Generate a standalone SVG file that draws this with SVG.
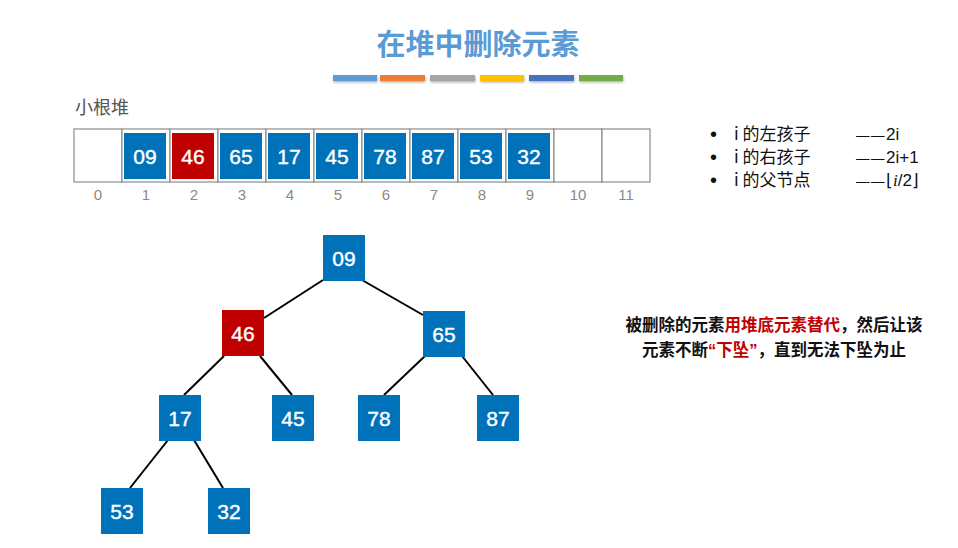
<svg xmlns="http://www.w3.org/2000/svg" width="958" height="548" viewBox="0 0 958 548">
<style>
.cj{font-family:"Noto Sans CJK SC","Liberation Sans",sans-serif}
.nb{fill:#0072b9}
.nr{fill:#c00000}
.nt{font-family:"Liberation Sans",Arial,sans-serif;font-size:21px;fill:#fff;stroke:#fff;stroke-width:0.4;text-anchor:middle}
.idx{font-family:"Liberation Sans",Arial,sans-serif;font-size:15px;fill:#8a8a8a;text-anchor:middle}
.cell{fill:#fff;stroke:#8c8c8c;stroke-width:1.2}
.edge{stroke:#000;stroke-width:2;fill:none}
.li{font-family:"Noto Sans CJK SC","Liberation Sans",sans-serif;font-size:17px;fill:#111}
.ds{font-family:"Liberation Sans",sans-serif;font-size:17px;fill:#111}
.dd{stroke:#111;stroke-width:1.8}
.bu{font-family:"Liberation Sans",sans-serif;font-size:20px;fill:#111}
.rm{font-family:"Noto Sans CJK SC",sans-serif;font-size:16.5px;font-weight:bold;fill:#111;text-anchor:middle}
.q{font-family:"Liberation Sans",sans-serif}
</style>
<defs>
<filter id="sh" x="-10%" y="-50%" width="120%" height="250%">
<feDropShadow dx="0.5" dy="1.5" stdDeviation="1" flood-color="#000" flood-opacity="0.3"/>
</filter>
</defs>
<rect width="958" height="548" fill="#fff"/>
<g id="title">
<text x="478" y="55" class="cj" font-size="29" font-weight="bold" fill="#5b9bd5" text-anchor="middle">在堆中删除元素</text>
<g filter="url(#sh)">
<rect x="333" y="75" width="44" height="6" fill="#5b9bd5"/>
<rect x="380" y="75" width="45" height="6" fill="#ed7d31"/>
<rect x="430" y="75" width="45" height="6" fill="#a5a5a5"/>
<rect x="480" y="75" width="44" height="6" fill="#ffc000"/>
<rect x="529" y="75" width="45" height="6" fill="#4472c4"/>
<rect x="579" y="75" width="44" height="6" fill="#70ad47"/>
</g>
</g>
<g id="array">
<text x="75" y="114" class="cj" font-size="18" fill="#555">小根堆</text>
<rect class="cell" x="74" y="129" width="48" height="53"/>
<rect class="cell" x="122" y="129" width="48" height="53"/>
<rect class="cell" x="170" y="129" width="48" height="53"/>
<rect class="cell" x="218" y="129" width="48" height="53"/>
<rect class="cell" x="266" y="129" width="48" height="53"/>
<rect class="cell" x="314" y="129" width="48" height="53"/>
<rect class="cell" x="362" y="129" width="48" height="53"/>
<rect class="cell" x="410" y="129" width="48" height="53"/>
<rect class="cell" x="458" y="129" width="48" height="53"/>
<rect class="cell" x="506" y="129" width="48" height="53"/>
<rect class="cell" x="554" y="129" width="48" height="53"/>
<rect class="cell" x="602" y="129" width="48" height="53"/>
<rect class="nb" x="124" y="133" width="42" height="46"/>
<rect class="nr" x="172" y="133" width="42" height="46"/>
<rect class="nb" x="220" y="133" width="42" height="46"/>
<rect class="nb" x="268" y="133" width="42" height="46"/>
<rect class="nb" x="316" y="133" width="42" height="46"/>
<rect class="nb" x="364" y="133" width="42" height="46"/>
<rect class="nb" x="412" y="133" width="42" height="46"/>
<rect class="nb" x="460" y="133" width="42" height="46"/>
<rect class="nb" x="508" y="133" width="42" height="46"/>
<text class="nt" x="145" y="164">09</text>
<text class="nt" x="193" y="164">46</text>
<text class="nt" x="241" y="164">65</text>
<text class="nt" x="289" y="164">17</text>
<text class="nt" x="337" y="164">45</text>
<text class="nt" x="385" y="164">78</text>
<text class="nt" x="433" y="164">87</text>
<text class="nt" x="481" y="164">53</text>
<text class="nt" x="529" y="164">32</text>
<text class="idx" x="98" y="200">0</text>
<text class="idx" x="146" y="200">1</text>
<text class="idx" x="194" y="200">2</text>
<text class="idx" x="242" y="200">3</text>
<text class="idx" x="290" y="200">4</text>
<text class="idx" x="338" y="200">5</text>
<text class="idx" x="386" y="200">6</text>
<text class="idx" x="434" y="200">7</text>
<text class="idx" x="482" y="200">8</text>
<text class="idx" x="530" y="200">9</text>
<text class="idx" x="578" y="200">10</text>
<text class="idx" x="626" y="200">11</text>
</g>
<g id="rules">
<text class="bu" x="710" y="141">•</text>
<text class="li" x="734" y="140">i 的左孩子</text>
<text class="ds" x="856" y="140"><tspan font-size="13.5" letter-spacing="1.5">——</tspan>2i</text>
<text class="bu" x="710" y="164">•</text>
<text class="li" x="734" y="163">i 的右孩子</text>
<text class="ds" x="856" y="163"><tspan font-size="13.5" letter-spacing="1.5">——</tspan>2i+1</text>
<text class="bu" x="710" y="187">•</text>
<text class="li" x="734" y="186">i 的父节点</text>
<text class="ds" x="856" y="186"><tspan font-size="13.5" letter-spacing="1.5">——</tspan>⌊<tspan font-style="italic" font-family="Liberation Serif,serif">i</tspan>/2⌋</text>
</g>
<g id="note">
<text class="rm" x="774" y="331">被删除的元素<tspan fill="#c00000">用堆底元素替代</tspan>，然后让该</text>
<text class="rm" x="774" y="356">元素不断<tspan fill="#c00000"><tspan class="q">“</tspan>下坠<tspan class="q">”</tspan></tspan>，直到无法下坠为止</text>
</g>
<g id="edges">
<line class="edge" x1="323" y1="280" x2="264" y2="318"/>
<line class="edge" x1="362" y1="280" x2="423" y2="315"/>
<line class="edge" x1="224" y1="356" x2="184" y2="395"/>
<line class="edge" x1="260" y1="356" x2="292" y2="395"/>
<line class="edge" x1="425" y1="356" x2="384" y2="395"/>
<line class="edge" x1="462" y1="356" x2="493" y2="395"/>
<line class="edge" x1="168" y1="440" x2="130" y2="488"/>
<line class="edge" x1="194" y1="440" x2="223" y2="488"/>
</g>
<g id="n09"><rect class="nb" x="323" y="235" width="42" height="46"/><text class="nt" x="344" y="266">09</text></g>
<g id="n46"><rect class="nr" x="222" y="310" width="42" height="46"/><text class="nt" x="243" y="341">46</text></g>
<g id="n65"><rect class="nb" x="423" y="311" width="42" height="46"/><text class="nt" x="444" y="342">65</text></g>
<g id="n17"><rect class="nb" x="159" y="395" width="42" height="46"/><text class="nt" x="180" y="426">17</text></g>
<g id="n45"><rect class="nb" x="272" y="395" width="42" height="46"/><text class="nt" x="293" y="426">45</text></g>
<g id="n78"><rect class="nb" x="358" y="395" width="42" height="46"/><text class="nt" x="379" y="426">78</text></g>
<g id="n87"><rect class="nb" x="477" y="395" width="42" height="46"/><text class="nt" x="498" y="426">87</text></g>
<g id="n53"><rect class="nb" x="101" y="488" width="42" height="46"/><text class="nt" x="122" y="519">53</text></g>
<g id="n32"><rect class="nb" x="208" y="488" width="42" height="46"/><text class="nt" x="229" y="519">32</text></g>
</svg>
